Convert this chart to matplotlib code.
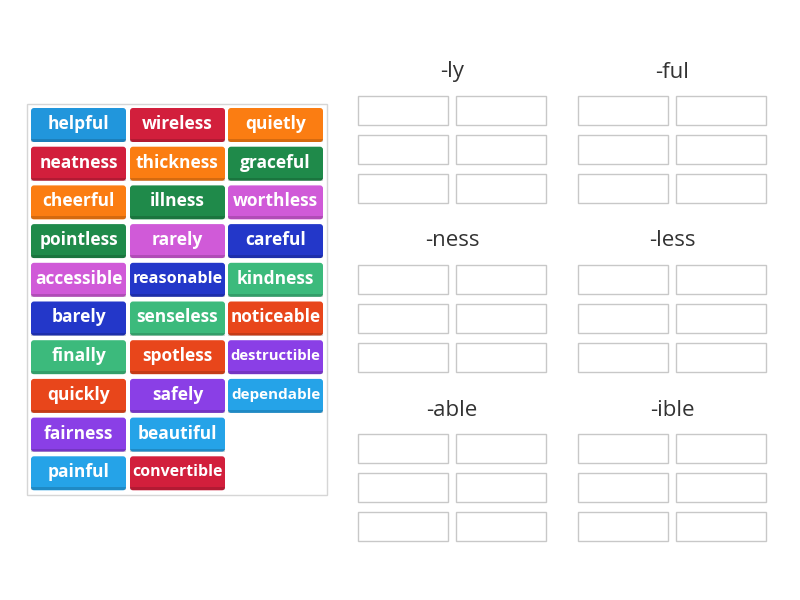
import matplotlib.pyplot as plt
import matplotlib.patches as patches

words = ['helpful', 'wireless', 'quietly', 'neatness', 'thickness', 'graceful',
         'cheerful', 'illness', 'worthless', 'pointless', 'rarely', 'careful',
         'accessible', 'reasonable', 'kindness', 'barely', 'senseless', 'noticeable',
         'finally', 'spotless', 'destructible', 'quickly', 'safely', 'dependable',
         'fairness', 'beautiful', 'painful', 'convertible']
palette = {'blue': '#2196dc', 'red': '#d21f3c', 'orange': '#fb7d12', 'dgreen': '#1f8a4a',
           'pink': '#d05ad8', 'dblue': '#2337c9', 'teal': '#3cba7c', 'rorange': '#e8461b',
           'purple': '#8a3fe6', 'lblue': '#25a3e8'}
word_colors = ['blue', 'red', 'orange', 'red', 'orange', 'dgreen',
               'orange', 'dgreen', 'pink', 'dgreen', 'pink', 'dblue',
               'pink', 'dblue', 'teal', 'dblue', 'teal', 'rorange',
               'teal', 'rorange', 'purple', 'rorange', 'purple', 'lblue',
               'purple', 'lblue', 'lblue', 'red']
headers = ['-ly', '-ful', '-ness', '-less', '-able', '-ible']

fig = plt.figure(figsize=(8, 6), dpi=100)
ax = fig.add_axes([0, 0, 1, 1])
ax.set_xlim(0, 800)
ax.set_ylim(600, 0)
ax.axis('off')
renderer = fig.canvas.get_renderer()

# word bank
ax.add_patch(patches.Rectangle((27, 104), 300, 391, fill=False, edgecolor='#d6d6d6', lw=1))
col_x = [31, 130, 228]
for i, (w, c) in enumerate(zip(words, word_colors)):
    if i < 24:
        r, k = divmod(i, 3)
    else:
        r, k = 8 + (i - 24) // 2, (i - 24) % 2
    x, y = col_x[k], 108 + r * 38.7
    ax.add_patch(patches.FancyBboxPatch((x, y), 95, 34, boxstyle='round,pad=0,rounding_size=3',
                                        facecolor=palette[c], edgecolor='none'))
    ax.add_patch(patches.Rectangle((x, y + 31), 95, 3, facecolor='black', alpha=0.15, edgecolor='none'))
    t = ax.text(x + 47.5, y + 16, w, ha='center', va='center', color='white',
                fontsize=12.5, fontweight='bold', family='Open Sans')
    wpx = t.get_window_extent(renderer).width
    if wpx > 90:
        t.set_fontsize(12.5 * 90 / wpx)

# target groups
gx = [358, 578]
gy = [96, 265, 434]
for j, h in enumerate(headers):
    r, k = divmod(j, 2)
    x0, y0 = gx[k], gy[r]
    ax.text(x0 + 94, y0 - 24, h, ha='center', va='center', fontsize=16,
            color='#333333', family='Open Sans')
    for rr in range(3):
        for cc in range(2):
            ax.add_patch(patches.Rectangle((x0 + cc * 98, y0 + rr * 39), 90, 29,
                                           fill=False, edgecolor='#c8c8c8', lw=1))

fig.savefig('out.png', dpi=100)
